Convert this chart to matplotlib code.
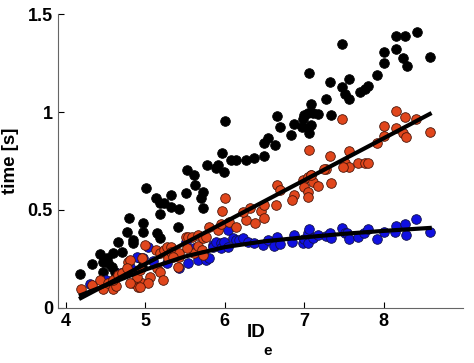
import numpy as np
import matplotlib
matplotlib.use("Agg")
import matplotlib.pyplot as plt

# black series (no fit line)
black_x = [4.18, 4.33, 4.43, 4.47, 4.47, 4.52, 4.53, 4.58, 4.62, 4.59, 4.71, 4.66, 4.77, 4.84,
           4.85, 4.80, 4.97, 4.97, 4.94, 4.96, 4.91, 5.01, 5.13, 5.18, 5.19, 5.15, 5.18, 5.23,
           5.32, 5.32, 5.43, 5.41, 5.51, 5.53, 5.61, 5.63, 5.70, 5.73, 5.73, 5.78, 5.89, 5.92,
           5.99, 5.97, 6.00, 6.08, 6.14, 6.27, 6.37, 6.49, 6.49, 6.54, 6.63, 6.66, 6.70, 6.84,
           6.87, 6.97, 6.99, 7.00, 7.05, 7.05, 7.06, 7.08, 7.08, 7.11, 7.18, 7.06, 7.27, 7.34,
           7.33, 7.48, 7.47, 7.51, 7.57, 7.56, 7.70, 7.76, 7.80, 7.92, 8.00, 8.01, 8.15, 8.27,
           8.42, 8.16, 8.25, 8.29, 8.58]
black_y = [0.173, 0.224, 0.276, 0.184, 0.235, 0.255, 0.230, 0.209, 0.184, 0.281, 0.286, 0.337,
           0.388, 0.347, 0.332, 0.459, 0.434, 0.388, 0.255, 0.209, 0.194, 0.612, 0.561, 0.536,
           0.480, 0.383, 0.357, 0.536, 0.577, 0.515, 0.505, 0.413, 0.587, 0.704, 0.679, 0.628,
           0.561, 0.592, 0.510, 0.730, 0.714, 0.730, 0.694, 0.791, 0.954, 0.755, 0.755, 0.755,
           0.765, 0.776, 0.842, 0.867, 0.832, 0.980, 0.923, 0.883, 0.939, 0.923, 0.964, 0.985,
           0.995, 0.918, 0.893, 0.934, 1.041, 0.995, 0.990, 1.199, 1.066, 0.985, 1.153, 1.347,
           1.128, 1.092, 1.066, 1.168, 1.102, 1.117, 1.133, 1.189, 1.250, 1.306, 1.388, 1.388,
           1.408, 1.321, 1.276, 1.235, 1.281]

# red series
red_x = [4.19, 4.33, 4.43, 4.47, 4.53, 4.59, 4.63, 4.60, 4.66, 4.71, 4.78, 4.81, 4.77, 4.84,
         4.91, 4.96, 4.90, 5.00, 4.96, 5.06, 5.04, 5.15, 5.19, 5.22, 5.13, 5.19, 5.23, 5.28,
         5.29, 4.94, 4.94, 4.81, 5.41, 5.42, 5.61, 5.32, 5.32, 5.42, 5.35, 5.51, 5.54, 5.59,
         5.53, 5.66, 5.72, 5.73, 5.66, 5.73, 5.77, 5.80, 5.92, 5.95, 6.06, 6.14, 6.27, 6.38,
         6.46, 6.32, 6.23, 5.97, 6.00, 6.49, 6.49, 6.65, 6.66, 6.70, 6.87, 6.85, 6.99, 7.05,
         7.09, 7.11, 7.00, 7.05, 7.05, 7.18, 7.27, 7.34, 7.08, 7.25, 7.06, 7.33, 7.56, 7.51,
         7.57, 7.49, 7.68, 7.76, 7.80, 7.48, 7.92, 8.00, 8.01, 8.15, 8.16, 8.24, 8.28, 8.27,
         8.41, 8.58]
red_y = [0.097, 0.117, 0.143, 0.097, 0.128, 0.097, 0.112, 0.143, 0.168, 0.179, 0.235, 0.245,
         0.204, 0.128, 0.107, 0.128, 0.158, 0.321, 0.255, 0.158, 0.128, 0.204, 0.184, 0.143,
         0.296, 0.281, 0.296, 0.311, 0.255, 0.194, 0.107, 0.128, 0.209, 0.260, 0.281, 0.311,
         0.286, 0.281, 0.260, 0.362, 0.362, 0.362, 0.306, 0.316, 0.296, 0.270, 0.372, 0.357,
         0.362, 0.413, 0.398, 0.429, 0.439, 0.413, 0.449, 0.434, 0.495, 0.510, 0.490, 0.495,
         0.561, 0.459, 0.526, 0.526, 0.628, 0.602, 0.577, 0.551, 0.653, 0.668, 0.679, 0.643,
         0.617, 0.592, 0.566, 0.622, 0.709, 0.638, 0.679, 0.709, 0.806, 0.776, 0.801, 0.740,
         0.719, 0.719, 0.740, 0.740, 0.740, 0.964, 0.842, 0.878, 0.929, 1.005, 0.918, 0.893,
         0.872, 0.974, 0.964, 0.898]

# blue series
blue_x = [4.30, 4.50, 4.70, 4.81, 4.90, 4.97, 5.03, 5.10, 5.28, 5.42, 5.51, 5.54, 5.61, 5.66,
          5.73, 5.76, 5.80, 5.85, 5.85, 5.89, 5.95, 5.95, 5.99, 6.04, 6.04, 6.10, 6.14, 6.18,
          6.23, 6.29, 6.37, 6.48, 6.54, 6.62, 6.66, 6.70, 6.85, 6.87, 6.99, 7.00, 7.05, 7.05,
          7.06, 7.11, 7.18, 7.27, 7.32, 7.34, 7.47, 7.51, 7.54, 7.56, 7.68, 7.75, 7.80, 7.92,
          8.01, 8.14, 8.16, 8.27, 8.28, 8.41, 8.58]
blue_y = [0.120, 0.140, 0.180, 0.209, 0.260, 0.255, 0.311, 0.240, 0.230, 0.204, 0.337, 0.230,
          0.306, 0.245, 0.281, 0.245, 0.255, 0.321, 0.311, 0.337, 0.332, 0.306, 0.337, 0.398,
          0.311, 0.357, 0.347, 0.347, 0.357, 0.337, 0.332, 0.321, 0.347, 0.316, 0.362, 0.327,
          0.337, 0.372, 0.332, 0.352, 0.383, 0.332, 0.403, 0.357, 0.372, 0.367, 0.383, 0.357,
          0.408, 0.383, 0.383, 0.352, 0.362, 0.383, 0.403, 0.352, 0.388, 0.388, 0.418, 0.429,
          0.372, 0.454, 0.388]

# fit lines
fit_red_x = [4.19, 8.58]
fit_red_y = [0.05, 0.99]
fit_blue_x = [4.19, 4.6, 5.0, 5.5, 6.0, 6.5, 7.0, 7.5, 8.0, 8.58]
fit_blue_y = [0.065, 0.13, 0.195, 0.262, 0.31, 0.34, 0.36, 0.378, 0.393, 0.408]

plt.rcParams['font.family'] = ['Liberation Sans', 'DejaVu Sans']

fig = plt.figure(figsize=(4.74, 3.63), dpi=100)
ax = fig.add_axes([0.122, 0.152, 0.855, 0.809])

ms = 48
ax.scatter(black_x, black_y, s=ms, c='black', edgecolors='black', linewidths=0.6, zorder=2)
ax.scatter(blue_x, blue_y, s=ms, c='#1010e0', edgecolors='#10104a', linewidths=0.6, zorder=3)
ax.scatter(red_x, red_y, s=ms, c='#e0461c', edgecolors='#4a1508', linewidths=0.6, zorder=4)
ax.plot(fit_red_x, fit_red_y, color='black', lw=3, zorder=5)
ax.plot(fit_blue_x, fit_blue_y, color='black', lw=3, zorder=5)

ax.set_xlim(3.9, 9.0)
ax.set_ylim(0, 1.5)
ax.set_xticks([4, 5, 6, 7, 8])
ax.set_yticks([0, 0.5, 1, 1.5])
ax.set_yticklabels(['0', '0.5', '1', '1.5'])
ax.tick_params(direction='in', length=4, width=0.8, labelsize=13)
ax.tick_params(axis='x', pad=4)
ax.tick_params(axis='y', pad=3.5)
for lab in ax.get_xticklabels() + ax.get_yticklabels():
    lab.set_fontweight('bold')
ax.spines['top'].set_visible(False)
ax.spines['right'].set_visible(False)
ax.spines['left'].set_color('#666666')
ax.spines['bottom'].set_color('#666666')

# x label "ID" with a low subscript "e"
ax.set_xlabel('ID', fontsize=13.5, fontweight='bold')
ax.xaxis.set_label_coords(0.49, -0.056)
ax.text(0.508, -0.160, 'e', transform=ax.transAxes, fontsize=11, fontweight='bold',
        ha='left', va='baseline')
ax.set_ylabel('time [s]', fontsize=13.5, fontweight='bold')
ax.yaxis.set_label_coords(-0.097, 0.5)

fig.savefig('out.png', dpi=100)
